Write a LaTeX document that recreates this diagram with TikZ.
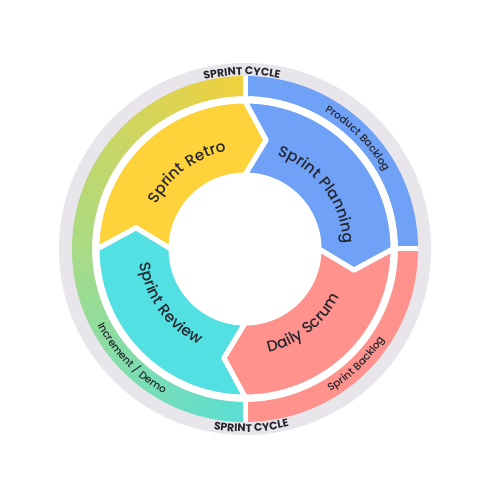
\documentclass[tikz,border=0pt]{standalone}
\usepackage{fontspec}
\setmainfont{Poppins}
\IfFontExistsTF{Poppins Medium}{\newfontfamily\labelfont{Poppins Medium}[LetterSpace=4]}{\newfontfamily\labelfont{Poppins}[FakeBold=0.5,LetterSpace=4]}
\usetikzlibrary{decorations.text}

\definecolor{ringgray}{RGB}{232,230,235}
\definecolor{retroyellow}{RGB}{253,210,58}
\definecolor{planblue}{RGB}{111,161,247}
\definecolor{scrumred}{RGB}{255,146,140}
\definecolor{reviewcyan}{RGB}{82,224,226}
\definecolor{incyellow}{RGB}{240,208,62}
\definecolor{incgreen}{RGB}{168,219,134}
\definecolor{inccyan}{RGB}{88,222,214}
\definecolor{labeltext}{RGB}{38,38,46}

\begin{document}
\begin{tikzpicture}[x=0.75pt,y=0.75pt,
    gap/.style={draw=white, line width=3.75pt, line join=round},
    bigtext/.style={decorate, decoration={text along path, text align=center,
        text={|\labelfont\fontsize{11.5}{13}\selectfont\color{labeltext}|#1}}},
    smalltext/.style={decorate, decoration={text along path, text align=center,
        text={|\labelfont\fontsize{7.8}{9}\selectfont\color{labeltext}|#1}}},
    cycletext/.style={decorate, decoration={text along path, text align=center,
        text={|\fontsize{8.2}{9}\selectfont\bfseries\color{labeltext}|#1}}}]
    \useasboundingbox (0,0) rectangle (491,501);
    \fill[white] (0,0) rectangle (491,501);
    \coordinate (C) at (245,252);

    %Shape: Circle
    \fill[ringgray] (C) circle [radius=186];
    \fill[white] (C) circle [radius=153];

    %Shape: Arc [Product Backlog]
    \fill[planblue] ([shift={(C)}]90:173) arc[start angle=90, end angle=0, radius=173] -- ([shift={(C)}]0:153) arc[start angle=0, end angle=90, radius=153] -- cycle;
    %Shape: Arc [Sprint Backlog]
    \fill[scrumred] ([shift={(C)}]0:173) arc[start angle=0, end angle=-90, radius=173] -- ([shift={(C)}]-90:153) arc[start angle=-90, end angle=0, radius=153] -- cycle;
    %Shape: Arc [Increment / Demo]
    \foreach \a in {90,92,...,268}{
        \pgfmathtruncatemacro\p{mod(\a-90,90)*100/90}
        \ifnum\a<180 \colorlet{inc}{incgreen!\p!incyellow}\else\colorlet{inc}{inccyan!\p!incgreen}\fi
        \fill[inc] ([shift={(C)}]\a:173) arc[start angle=\a, end angle=\a+2.4, radius=173] -- ([shift={(C)}]\a+2.4:153) arc[start angle=\a+2.4, end angle=\a, radius=153] -- cycle;
    }
    %Straight Lines
    \foreach \a in {90,0,-90}
        \draw[gap] (C) -- ([shift={(C)}]\a:173);

    %Shape: Arrow Segments
    \foreach \sa/\sb/\col in {180/90/retroyellow, 90/0/planblue, 0/-90/scrumred, -90/-180/reviewcyan}{
        \filldraw[fill=\col, gap] ([shift={(C)}]\sa:148) arc[start angle=\sa, end angle=\sb, radius=148] -- ([shift={(C)}]\sb-11:111) -- ([shift={(C)}]\sb:74) arc[start angle=\sb, end angle=\sa, radius=74] -- ([shift={(C)}]\sa-11:111) -- cycle;
    }

    % Text Node
    \path[bigtext={Sprint Retro}] ([shift={(C)}]187:99) arc[start angle=187, end angle=67, radius=99];
    % Text Node
    \path[bigtext={Sprint Planning}] ([shift={(C)}]97:99) arc[start angle=97, end angle=-23, radius=99];
    % Text Node
    \path[bigtext={Daily Scrum}] ([shift={(C)}]-112:106) arc[start angle=-112, end angle=8, radius=106];
    % Text Node
    \path[bigtext={Sprint Review}] ([shift={(C)}]156:106) arc[start angle=156, end angle=276, radius=106];

    % Text Node
    \path[smalltext={Product Backlog}] ([shift={(C)}]84.5:159) arc[start angle=84.5, end angle=4.5, radius=159];
    % Text Node
    \path[smalltext={Sprint Backlog}] ([shift={(C)}]-86:166) arc[start angle=-86, end angle=-6, radius=166];
    % Text Node
    \path[smalltext={Increment / Demo}] ([shift={(C)}]184:166) arc[start angle=184, end angle=264, radius=166];
    % Text Node
    \path[cycletext={SPRINT CYCLE}] ([shift={(C)}]131:174) arc[start angle=131, end angle=51, radius=174];
    % Text Node
    \path[cycletext={SPRINT CYCLE}] ([shift={(C)}]-128:183) arc[start angle=-128, end angle=-48, radius=183];

\end{tikzpicture}
\end{document}
